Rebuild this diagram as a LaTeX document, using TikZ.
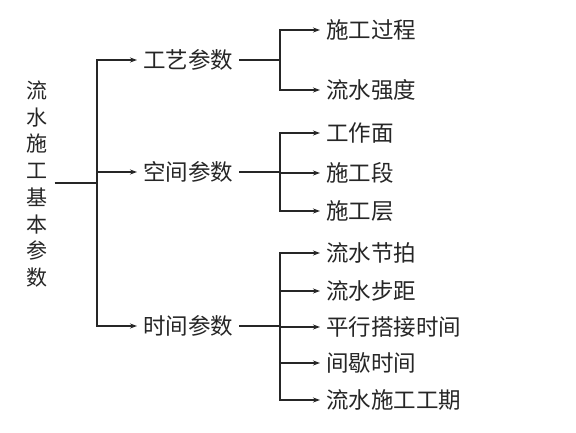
\documentclass[tikz,border=0pt]{standalone}
\usepackage{fontspec}
\newfontfamily\cjk{Noto Sans CJK SC}
\usetikzlibrary{arrows.meta}
\begin{document}
\begin{tikzpicture}[x=1pt,y=-1pt,
  txt/.style={font=\cjk\fontsize{22.5}{26.7}\selectfont, text=black!85, inner ysep=0pt},
  lbl/.style={txt, anchor=west, inner xsep=6pt},
  conn/.style={line width=1.4pt, black!85},
  arr/.style={conn, -{Stealth[length=7pt,width=5pt]}}]
\useasboundingbox (0,0) rectangle (576,432);
\fill[white] (0,0) rectangle (576,432);
% root
\node[txt, font=\cjk\fontsize{21}{26.7}\selectfont, align=center, inner xsep=7pt] (root) at (37,184) {流\\水\\施\\工\\基\\本\\参\\数};
% junctions
\coordinate (j0) at (97,183);
\coordinate (j1) at (280,60);
\coordinate (j2) at (280,172);
\coordinate (j3) at (280,326);
% middle labels
\node[lbl] (g1) at (137,60) {工艺参数};
\node[lbl] (g2) at (137,172) {空间参数};
\node[lbl] (g3) at (137,326) {时间参数};
% leaves
\node[lbl] (a1) at (320,30) {施工过程};
\node[lbl] (a2) at (320,90) {流水强度};
\node[lbl] (b1) at (320,133) {工作面};
\node[lbl] (b2) at (320,173) {施工段};
\node[lbl] (b3) at (320,211) {施工层};
\node[lbl] (c1) at (320,253) {流水节拍};
\node[lbl] (c2) at (320,291) {流水步距};
\node[lbl] (c3) at (320,327) {平行搭接时间};
\node[lbl] (c4) at (320,363) {间歇时间};
\node[lbl] (c5) at (320,400) {流水施工工期};
% connectors
\draw[conn] (root.east |- j0) -- (j0);
\foreach \g in {g1,g2,g3} \draw[arr] (j0) |- (\g.west);
\draw[conn] (g1.east) -- (j1);
\draw[conn] (g2.east) -- (j2);
\draw[conn] (g3.east) -- (j3);
\foreach \l in {a1,a2} \draw[arr] (j1) |- (\l.west);
\foreach \l in {b1,b2,b3} \draw[arr] (j2) |- (\l.west);
\foreach \l in {c1,c2,c3,c4,c5} \draw[arr] (j3) |- (\l.west);
\end{tikzpicture}
\end{document}
